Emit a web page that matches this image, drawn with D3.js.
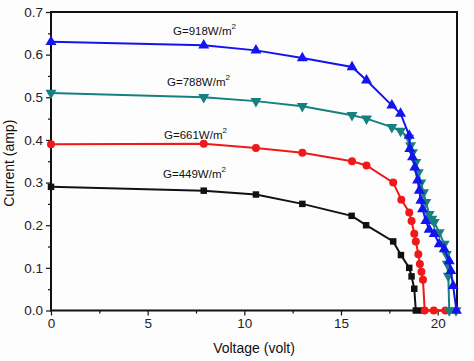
<!DOCTYPE html>
<html>
<head>
<meta charset="utf-8">
<script src="https://cdn.jsdelivr.net/npm/d3@7"></script>
<style>
  body { margin: 0; background: #fff; }
  text { font-family: Arial, "Liberation Sans", sans-serif; }
</style>
</head>
<body>
<script>
// series data
var v449 = [0, 7.9, 10.6, 13.0, 15.55, 16.3, 17.7, 18.1, 18.53, 18.65, 18.79, 18.87, 19.2];
var i449 = [0.29, 0.281, 0.272, 0.25, 0.222, 0.2, 0.162, 0.13, 0.1, 0.08, 0.051, 0.0, 0.0];

var v661 = [0, 7.9, 10.6, 13.0, 15.57, 16.32, 17.7, 18.12, 18.53, 18.65, 18.79, 18.87, 19.0, 19.08, 19.16, 19.24, 19.33, 19.8, 20.4];
var i661 = [0.39, 0.391, 0.381, 0.37, 0.35, 0.34, 0.30, 0.26, 0.23, 0.21, 0.18, 0.162, 0.132, 0.109, 0.091, 0.072, 0, 0, 0];

var v788 = [0, 7.9, 10.6, 13.0, 15.57, 16.32, 17.63, 18.08, 18.5, 18.6, 18.7, 18.87, 19.0, 19.13, 19.27, 19.39, 19.56, 19.7, 19.82, 20.08, 20.34, 20.45, 20.5, 20.55, 20.6, 20.95];
var i788 = [0.51, 0.5, 0.491, 0.479, 0.458, 0.45, 0.43, 0.421, 0.405, 0.387, 0.371, 0.348, 0.324, 0.3, 0.277, 0.254, 0.226, 0.215, 0.207, 0.183, 0.156, 0.132, 0.109, 0.081, 0, 0];

var v918 = [0, 7.9, 10.6, 13.0, 15.57, 16.32, 17.63, 18.08, 18.53, 18.56, 18.7, 18.82, 18.96, 19.05, 19.13, 19.22, 19.39, 19.56, 19.82, 20.08, 20.34, 20.6, 20.68, 20.8, 20.97];
var i918 = [0.63, 0.622, 0.61, 0.592, 0.571, 0.54, 0.481, 0.462, 0.41, 0.379, 0.36, 0.336, 0.305, 0.281, 0.258, 0.238, 0.21, 0.19, 0.18, 0.156, 0.144, 0.116, 0.093, 0.058, 0];

var labels = ["G=449W/m", "G=661W/m", "G=788W/m", "G=918W/m"];
var xTicks = [0, 5, 10, 15, 20];
var yTicks = [0.0, 0.1, 0.2, 0.3, 0.4, 0.5, 0.6, 0.7];

var W = 474, H = 361;
var margin = {left: 51, top: 12, right: 17, bottom: 51};

var svg = d3.select("body").append("svg")
  .attr("width", W)
  .attr("height", H);

svg.append("rect").attr("width", W).attr("height", H).attr("fill", "#fdfdfd");

var x = d3.scaleLinear().domain([0, 21]).range([margin.left, W - margin.right]);
var y = d3.scaleLinear().domain([0, 0.7]).range([H - margin.bottom + 0.5, margin.top]);

// minor ticks
svg.append("g")
  .attr("transform", "translate(0," + y(0) + ")")
  .call(d3.axisBottom(x).tickValues(d3.range(2.5, 21, 5)).tickSize(3).tickFormat(""))
  .call(function(g) { g.select(".domain").remove(); });
svg.append("g")
  .attr("transform", "translate(" + x(0) + ",0)")
  .call(d3.axisLeft(y).tickValues(d3.range(0.05, 0.7, 0.1)).tickSize(3).tickFormat(""))
  .call(function(g) { g.select(".domain").remove(); });

// major ticks
var xAxis = svg.append("g")
  .attr("transform", "translate(0," + y(0) + ")")
  .call(d3.axisBottom(x).tickValues(xTicks).tickSize(5).tickPadding(3).tickFormat(d3.format("d")));
var yAxis = svg.append("g")
  .attr("transform", "translate(" + x(0) + ",0)")
  .call(d3.axisLeft(y).tickValues(yTicks).tickSize(5).tickPadding(3).tickFormat(d3.format(".1f")));

[xAxis, yAxis].forEach(function(g) {
  g.selectAll("text").attr("font-size", 13.5).attr("fill", "#222");
  g.select(".domain").remove();
});
svg.selectAll(".tick line").attr("stroke", "#111").attr("stroke-width", 1.2);

// frame
svg.append("rect")
  .attr("x", x(0)).attr("y", y(0.7))
  .attr("width", x(21) - x(0)).attr("height", y(0) - y(0.7))
  .attr("fill", "none").attr("stroke", "#111").attr("stroke-width", 2);

var series = [
  {v: v449, i: i449, color: "#111111", shape: "square"},
  {v: v661, i: i661, color: "#f01818", shape: "circle"},
  {v: v788, i: i788, color: "#168080", shape: "down"},
  {v: v918, i: i918, color: "#1414f0", shape: "up"}
];

var line = d3.line().x(function(d) { return x(d[0]); }).y(function(d) { return y(d[1]); });

var symbols = {
  square: d3.symbol().type(d3.symbolSquare).size(42),
  circle: d3.symbol().type(d3.symbolCircle).size(50),
  up: d3.symbol().type(d3.symbolTriangle).size(52),
  down: d3.symbol().type(d3.symbolTriangle).size(52)
};

var plot = svg.append("g");

series.forEach(function(s) {
  var pts = s.v.map(function(v, k) { return [v, s.i[k]]; });
  plot.append("path")
    .datum(pts)
    .attr("fill", "none")
    .attr("stroke", s.color)
    .attr("stroke-width", 2)
    .attr("d", line);
  plot.selectAll(null)
    .data(pts)
    .enter().append("path")
    .attr("d", symbols[s.shape]())
    .attr("fill", s.color)
    .attr("transform", function(d) {
      var t = "translate(" + x(d[0]) + "," + y(d[1]) + ")";
      return s.shape === "down" ? t + " rotate(180)" : t;
    });
});

// series labels
var labelPos = [[163, 178], [164, 139], [167, 86], [173, 35]];
labels.forEach(function(l, k) {
  var t = svg.append("text")
    .attr("x", labelPos[k][0]).attr("y", labelPos[k][1])
    .attr("font-size", 11.5).attr("fill", "#111")
    .text(l);
  t.append("tspan").attr("font-size", 8).attr("dy", -6).text("2");
});

// axis titles
svg.append("text")
  .attr("x", (x(0) + x(21)) / 2).attr("y", 353)
  .attr("text-anchor", "middle").attr("font-size", 14).attr("fill", "#111")
  .text("Voltage (volt)");
svg.append("text")
  .attr("transform", "translate(14," + (y(0.35) + 2) + ") rotate(-90)")
  .attr("text-anchor", "middle").attr("font-size", 14).attr("fill", "#111")
  .text("Current (amp)");
</script>
</body>
</html>
